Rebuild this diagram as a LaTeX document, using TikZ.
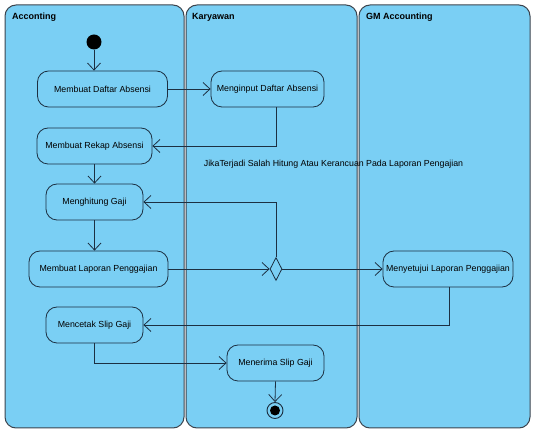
\documentclass[tikz,border=0pt]{standalone}
\usepackage{fontspec}
\setmainfont{Liberation Sans}
\usetikzlibrary{arrows.meta,shapes.geometric}
\definecolor{lanefill}{RGB}{122,207,244}
\definecolor{laneline}{RGB}{60,68,78}
\definecolor{nodeline}{RGB}{28,48,66}
\tikzset{
  lane/.style={draw=laneline, line width=1pt, fill=lanefill, rounded corners=11pt},
  lanetitle/.style={anchor=west, font=\fontsize{9}{10}\selectfont\bfseries, inner sep=0pt},
  act/.style={draw=nodeline, line width=0.8pt, fill=lanefill, rounded corners=11pt, inner sep=0pt, font=\fontsize{8.8}{10}\selectfont, text=black},
  flow/.style={draw=nodeline, line width=0.8pt, -{Straight Barb[length=7pt,width=13pt,line width=0.8pt]}},
  guard/.style={font=\fontsize{8.8}{10}\selectfont, inner sep=0pt}
}
\begin{document}
\begin{tikzpicture}[x=1pt,y=-1pt]
\useasboundingbox (0,0) rectangle (536,435);
% lanes
\path[lane] (5,5) rectangle (184,428);
\path[lane] (186,5) rectangle (357,428);
\path[lane] (359,5) rectangle (530,428);
\node[lanetitle] (t1) at (12,17) {Acconting};
\node[lanetitle] (t2) at (192,17) {Karyawan};
\node[lanetitle] (t3) at (366,17) {GM Accounting};
% nodes
\node[circle, fill=black, minimum size=15pt, inner sep=0pt] (start) at (94,42) {};
\node[act, minimum width=130pt, minimum height=36pt] (mda) at (102.5,89) {Membuat Daftar Absensi};
\node[act, minimum width=113pt, minimum height=36pt] (mida) at (267.5,89) {Menginput Daftar Absensi};
\node[act, minimum width=115pt, minimum height=36pt] (mra) at (94.5,146) {Membuat Rekap Absensi};
\node[act, minimum width=97pt, minimum height=36pt] (mg) at (94.5,202) {Menghitung Gaji};
\node[act, minimum width=139pt, minimum height=36pt] (mlp) at (98.5,269) {Membuat Laporan Penggajian};
\node[act, minimum width=97pt, minimum height=36pt] (msg) at (94.5,325) {Mencetak Slip Gaji};
\node[act, minimum width=97pt, minimum height=36pt] (mrsg) at (275.5,363) {Menerima Slip Gaji};
\node[act, minimum width=130pt, minimum height=36pt] (mlpg) at (448,269) {Menyetujui Laporan Penggajian};
\node[diamond, draw=nodeline, line width=0.8pt, fill=lanefill, minimum width=12pt, minimum height=23pt, inner sep=0pt, aspect=0.5] (dec) at (276,269) {};
\node[circle, draw=nodeline, line width=0.9pt, fill=lanefill, minimum size=16pt, inner sep=0pt] (end) at (275,410.5) {};
\node[circle, fill=black, minimum size=10pt, inner sep=0pt] (endin) at (end.center) {};
% guard text
\node[guard] (g) at (333.5,164) {JikaTerjadi Salah Hitung Atau Kerancuan Pada Laporan Pengajian};
% anchor points
\coordinate (mdaS) at (mida.south -| dec.north);
\coordinate (mlpgS) at (449,287);
% flows
\draw[flow] (start) -- (start |- mda.north);
\draw[flow] (mda) -- (mida);
\draw[flow] (mdaS) |- (mra.east);
\draw[flow] (mra.south) -- (mra.south |- mg.north);
\draw[flow] (dec.north) |- (mg.east);
\draw[flow] (mg.south) -- (mg.south |- mlp.north);
\draw[flow] (mlp.east) -- (dec.west);
\draw[flow] (dec.east) -- (mlpg.west);
\draw[flow] (mlpgS) |- (msg.east);
\draw[flow] (msg.south) |- (mrsg.west);
\draw[flow] (mrsg.south) -- (end.north);
\end{tikzpicture}
\end{document}
